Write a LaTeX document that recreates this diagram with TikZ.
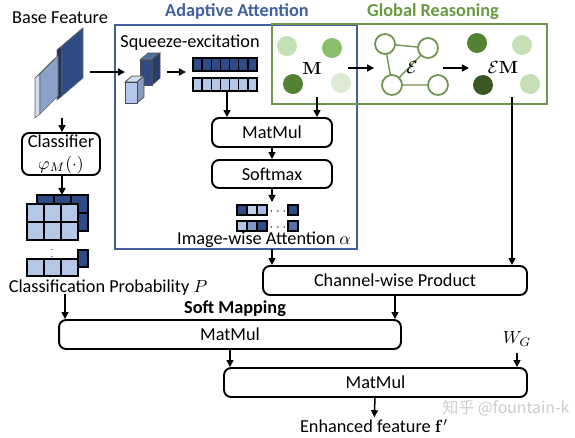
\documentclass[tikz,border=0pt]{standalone}
\usepackage[no-math]{fontspec}
\setmainfont{Carlito}
\newfontfamily\cjk{Noto Sans CJK SC}
\usetikzlibrary{arrows.meta}

\definecolor{navy}{HTML}{2F4B85}
\definecolor{lblue}{HTML}{B4C7E7}
\definecolor{mblue}{HTML}{8FAADC}
\definecolor{bframe}{HTML}{41609C}
\definecolor{gframe}{HTML}{6E9450}
\definecolor{gtitle}{HTML}{6A9A3F}
\definecolor{gzero}{HTML}{DDEBD3}
\definecolor{gone}{HTML}{C5E0B4}
\definecolor{gtwo}{HTML}{8CBF6A}
\definecolor{gthree}{HTML}{548235}
\definecolor{gfour}{HTML}{385723}

\begin{document}
\begin{tikzpicture}[x=0.02cm,y=-0.02cm,
    font=\fontsize{10.4}{12}\selectfont,
    arr/.style={-{Triangle[length=4pt,width=4pt]},line width=0.85pt},
    opbox/.style={draw,line width=1.1pt,rounded corners=4pt,minimum height=0.58cm,inner sep=0pt},
    gdot/.style={circle,minimum size=0.4cm,inner sep=0pt},
    gnode/.style={circle,draw=gframe,line width=1pt,fill=white,minimum size=0.4cm,inner sep=0pt},
    cellbox/.style={draw,line width=0.8pt}]
    \useasboundingbox (0,0) rectangle (575,437);
    % Базовые признаки
    \node (base) at (60,18) {Base Feature};
    \filldraw[draw=black!60,line width=0.3pt,fill=navy!80!black] (57,50) -- (78,32) -- (83,28) -- (62,46) -- cycle;
    \filldraw[draw=black!60,line width=0.3pt,fill=navy!70!black] (57,50) -- (62,46) -- (62,96) -- (57,100) -- cycle;
    \filldraw[draw=black!60,line width=0.3pt,fill=navy] (62,46) -- (83,28) -- (83,78) -- (62,96) -- cycle;
    \filldraw[draw=black!60,line width=0.3pt,fill=lblue!70] (35,78) -- (53,60) -- (58,56) -- (40,74) -- cycle;
    \filldraw[draw=black!60,line width=0.3pt,fill=lblue!60] (35,78) -- (40,74) -- (40,114) -- (35,118) -- cycle;
    \filldraw[draw=black!60,line width=0.3pt,fill=mblue!80!gray] (40,74) -- (58,56) -- (58,96) -- (40,114) -- cycle;
    \coordinate (bfR) at (90,72);
    \coordinate (bfB) at (62,118);
    % Классификатор
    \node[opbox,minimum width=1.56cm,minimum height=0.84cm,align=center,
      font=\fontsize{10.4}{11}\selectfont] (cls) at (61,154)
      {Classifier\\[1.5pt]$\varphi_M(\cdot)$};
    \draw[arr] (bfB) -- (bfB |- cls.north);
    \coordinate (gridT) at (62,195);
    \draw[arr] (cls.south -| gridT) -- (gridT);
    \foreach \i in {0,1,2}{
      \foreach \j in {0,1}{
        \draw[cellbox,fill=navy] (37+17*\i,195+18*\j) rectangle +(17,18);}}
    \foreach \i in {0,1,2}{
      \foreach \j in {0,1}{
        \draw[cellbox,fill=lblue] (27+17*\i,204+18*\j) rectangle +(17,18);}}
    \node[inner sep=0pt] (vd) at (52,252) {\tiny$\vdots$};
    \draw[cellbox,fill=navy] (78,250) rectangle (88,267);
    \foreach \i in {0,1,2}{
      \draw[cellbox,fill=lblue] (27+17*\i,259) rectangle +(17,17);}
    \node (clsP) at (108,288) {Classification Probability $P$};
    % Adaptive Attention
    \draw[bframe,line width=1.2pt] (115,25) rectangle (357,249);
    \node[bframe,font=\fontsize{10.4}{12}\selectfont\bfseries] (aaT) at (237,12) {Adaptive Attention};
    \node (seT) at (190,43) {Squeeze-excitation};
    \filldraw[draw=black!70,line width=0.4pt,fill=navy!80] (140,60) -- (148,53) -- (160,53) -- (152,60) -- cycle;
    \filldraw[draw=black!70,line width=0.4pt,fill=navy!80!black] (152,60) -- (160,53) -- (160,78) -- (152,85) -- cycle;
    \filldraw[draw=black!70,line width=0.4pt,fill=navy] (140,60) rectangle (152,85);
    \filldraw[draw=black!70,line width=0.4pt,fill=lblue!60] (125,82) -- (132,76) -- (144,76) -- (137,82) -- cycle;
    \filldraw[draw=black!70,line width=0.4pt,fill=mblue!70!gray] (137,82) -- (144,76) -- (144,97) -- (137,103) -- cycle;
    \filldraw[draw=black!70,line width=0.4pt,fill=lblue] (125,82) rectangle (137,103);
    \coordinate (seIn) at (125,72);
    \coordinate (seOut) at (167,72);
    \coordinate (vecIn) at (186,72);
    \draw[arr] (bfR) -- (seIn);
    \draw[arr] (seOut) -- (vecIn);
    \foreach \i in {0,...,6}{
      \draw[cellbox,fill=navy] (193+9.14*\i,58) rectangle +(9.14,13);
      \draw[cellbox,fill=lblue] (193+9.14*\i,78) rectangle +(9.14,13);}
    \coordinate (seV) at (227,91);
    \node[opbox,minimum width=2.4cm] (mmA) at (272,132.5) {MatMul};
    \node[opbox,minimum width=2.4cm,minimum height=0.56cm] (soft) at (272,174) {Softmax};
    \draw[arr] (seV) -- (seV |- mmA.north);
    \draw[arr] (mmA) -- (soft);
    \coordinate (attT) at (272,202);
    \draw[arr] (soft) -- (attT);
    % веса внимания
    \foreach \c [count=\i from 0] in {navy,lblue!80,mblue!80}{
      \draw[cellbox,fill=\c] (237+10*\i,205) rectangle +(10,10);}
    \foreach \c [count=\i from 0] in {lblue,mblue!80!navy,navy}{
      \draw[cellbox,fill=\c] (237+10*\i,221) rectangle +(10,10);}
    \draw[cellbox,fill=navy] (288,205) rectangle +(10,10);
    \draw[cellbox,fill=mblue!40!navy] (288,221) rectangle +(10,10);
    \node[inner sep=0pt] at (278,212) {\bfseries\scriptsize$\cdots$};
    \node[inner sep=0pt] at (278,228) {\bfseries\scriptsize$\cdots$};
    \node (attL) at (264,240) {Image-wise Attention $\alpha$};
    % Global Reasoning
    \draw[gframe,line width=1.4pt] (272,24) rectangle (547,104);
    \node[gtitle,font=\fontsize{10.4}{12}\selectfont\bfseries] (grT) at (433,12) {Global Reasoning};
    \node[gdot,fill=gone] (m1) at (287,46) {};
    \node[gdot,fill=gtwo] (m2) at (332,48) {};
    \node[gdot,fill=gthree] (m3) at (293,84) {};
    \node[gdot,fill=gzero] (m4) at (341,83) {};
    \node (M) at (312,68) {$\mathbf{M}$};
    \coordinate (mR) at (348,68);
    \coordinate (mDown) at (317,97);
    \draw[arr] (mDown) -- (mDown |- mmA.north);
    \draw[gframe,line width=0.8pt] (385,44) -- (428,48) (385,44) -- (392,85) (392,85) -- (428,48) (392,85) -- (438,85);
    \node[gnode] (n1) at (385,44) {};
    \node[gnode] (n2) at (428,48) {};
    \node[gnode] (n3) at (392,85) {};
    \node[gnode] (n4) at (438,85) {};
    \node (E) at (412,67) {$\mathcal{E}$};
    \draw[arr] (mR) -- (n1.west |- mR);
    \coordinate (gOut) at (443,68);
    \coordinate (emIn) at (469,68);
    \draw[arr] (gOut) -- (emIn);
    \node[gdot,fill=gthree] (e1) at (477,43) {};
    \node[gdot,fill=gone] (e2) at (522,45) {};
    \node[gdot,fill=gfour] (e3) at (483,85) {};
    \node[gdot,fill=gone] (e4) at (530,84) {};
    \node (EM) at (503,67) {$\mathcal{E}\mathbf{M}$};
    \coordinate (emD) at (512,97);
    % нижняя часть
    \node[opbox,minimum width=5.28cm] (cwp) at (395,280.5) {Channel-wise Product};
    \coordinate (attB) at (272,249);
    \draw[arr] (attB) -- (attB |- cwp.north);
    \draw[arr] (emD) -- (emD |- cwp.north);
    \node[opbox,minimum width=6.84cm] (mm1) at (230,334.5) {MatMul};
    \node[font=\fontsize{10.4}{12}\selectfont\bfseries] (smT) at (235,309) {Soft Mapping};
    \coordinate (pOut) at (65,294);
    \draw[arr] (pOut) -- (pOut |- mm1.north);
    \draw[arr] (cwp.south) -- (cwp.south |- mm1.north);
    \node[opbox,minimum width=6.06cm] (mm2) at (375.5,382.5) {MatMul};
    \node (wg) at (517,339) {$W_G$};
    \draw[arr] (wg) -- (wg |- mm2.north);
    \draw[arr] (mm1.south) -- (mm1.south |- mm2.north);
    \node[inner sep=1pt] (enh) at (374,426) {Enhanced feature $\mathbf{f}'$};
    \draw[arr] (mm2) -- (enh);
    \node[gray!40,font=\fontsize{9}{11}\cjk,inner sep=0pt] (wm) at (506,408) {知乎 @fountain-k};
\end{tikzpicture}
\end{document}
